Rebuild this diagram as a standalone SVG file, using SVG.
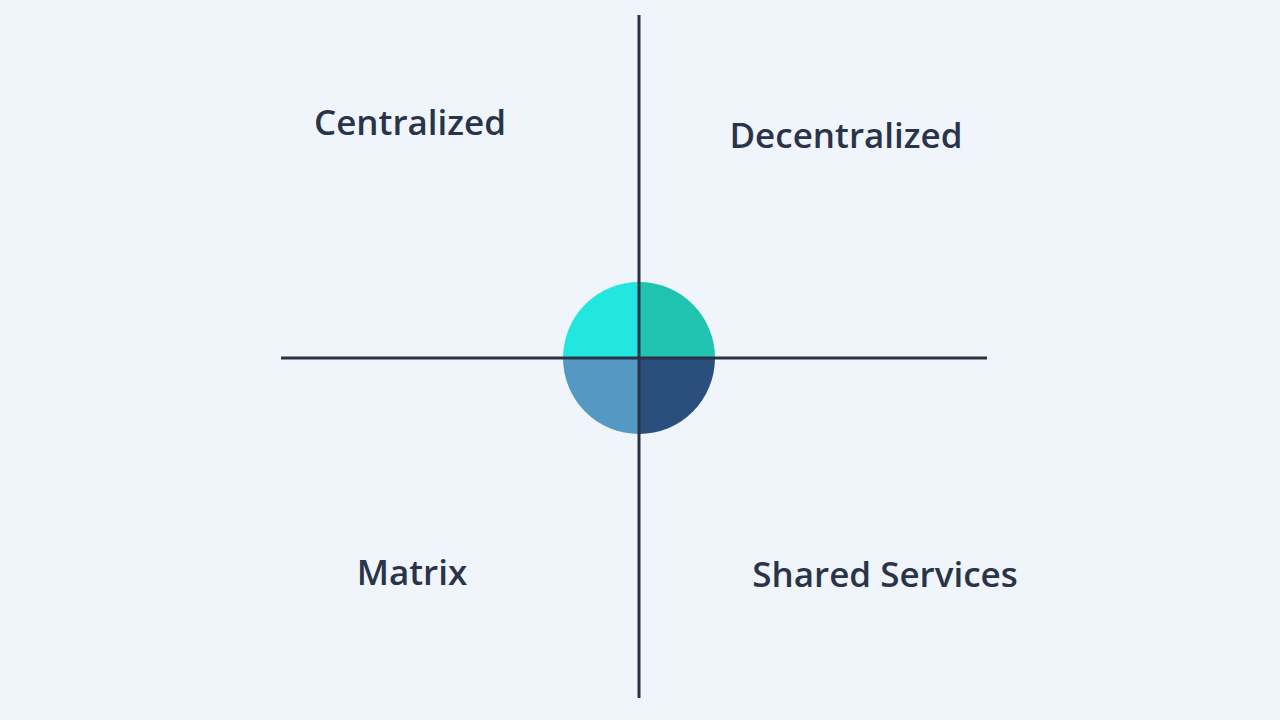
<svg xmlns="http://www.w3.org/2000/svg" width="1280" height="720" viewBox="0 0 1280 720">
<style>
.lbl{font-family:"Open Sans","Noto Sans","Liberation Sans",sans-serif;font-size:35px;font-weight:600;fill:#2a3449;text-anchor:middle}
.ax{stroke:#2a3345;stroke-width:3;fill:none}
</style>
<rect width="1280" height="720" fill="#f0f5fc"/>
<g id="hub">
<path d="M639 358 L563 358 A76 76 0 0 1 639 282 Z" fill="#22e6e0"/>
<path d="M639 358 L639 282 A76 76 0 0 1 715 358 Z" fill="#20c2b0"/>
<path d="M639 358 L563 358 A76 76 0 0 0 639 434 Z" fill="#5399c4"/>
<path d="M639 358 L639 434 A76 76 0 0 0 715 358 Z" fill="#2a4f7c"/>
</g>
<g id="axes">
<line class="ax" x1="639" y1="15" x2="639" y2="698"/>
<line class="ax" x1="281" y1="358" x2="987" y2="358"/>
</g>
<g id="centralized"><text class="lbl" x="410" y="135">Centralized</text></g>
<g id="decentralized"><text class="lbl" x="846" y="148">Decentralized</text></g>
<g id="matrix"><text class="lbl" x="412" y="585">Matrix</text></g>
<g id="shared-services"><text class="lbl" x="885" y="587">Shared Services</text></g>
</svg>
